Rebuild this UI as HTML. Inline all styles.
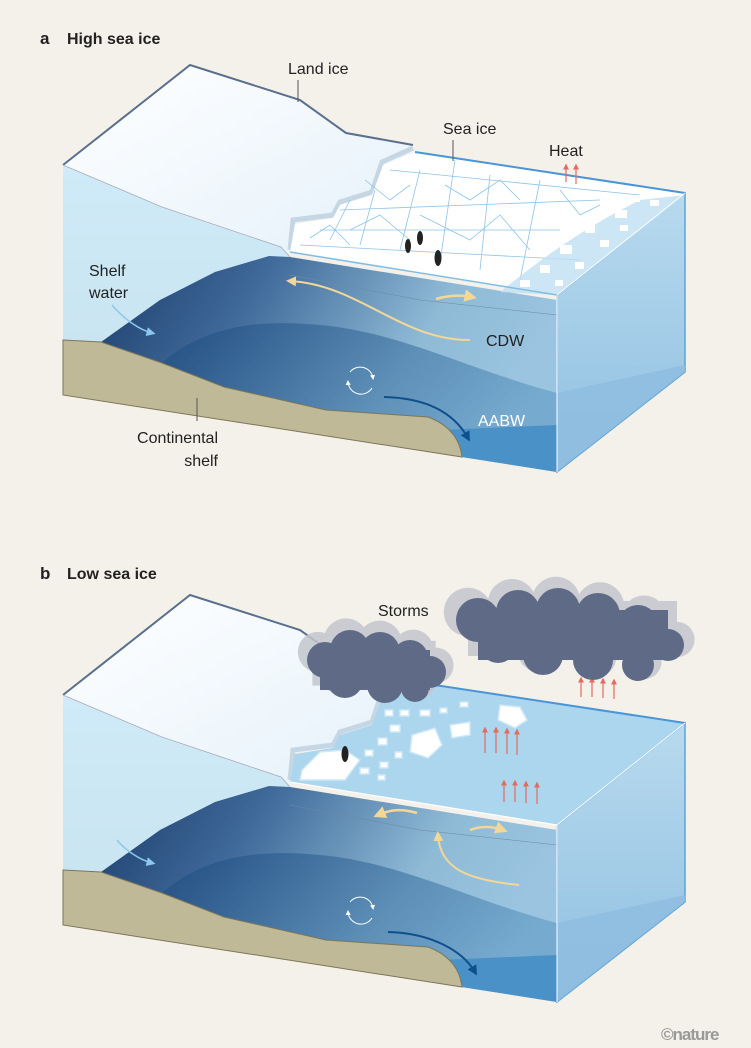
<!DOCTYPE html>
<html><head><meta charset="utf-8"><style>
body{margin:0;background:#f4f1ea;}
svg{display:block;font-family:"Liberation Sans",sans-serif;}
</style></head><body>
<svg width="751" height="1048" viewBox="0 0 751 1048" xmlns="http://www.w3.org/2000/svg">
<defs>
<linearGradient id="face" x1="0" y1="0" x2="0" y2="1"><stop offset="0" stop-color="#cfeaf8"/><stop offset="0.7" stop-color="#c9e4f0"/><stop offset="1" stop-color="#b9c9b8"/></linearGradient>
<linearGradient id="deep" x1="0" y1="0" x2="1" y2="0.3"><stop offset="0" stop-color="#1c3c6a"/><stop offset="0.35" stop-color="#3f6a9a"/><stop offset="0.75" stop-color="#8fbad6"/><stop offset="1" stop-color="#9ac4e0"/></linearGradient>
<linearGradient id="low" x1="0" y1="0" x2="1" y2="0.4"><stop offset="0" stop-color="#1e4a7e"/><stop offset="1" stop-color="#6aa2c9"/></linearGradient>
<linearGradient id="land" x1="0" y1="0" x2="1" y2="1"><stop offset="0" stop-color="#ffffff"/><stop offset="1" stop-color="#e4f1fa"/></linearGradient>
<linearGradient id="side" x1="0" y1="0" x2="0" y2="1"><stop offset="0" stop-color="#b8daee"/><stop offset="1" stop-color="#8fbfe1"/></linearGradient>
<marker id="ay" viewBox="0 0 10 10" refX="6" refY="5" markerWidth="5" markerHeight="5" orient="auto-start-reverse"><path d="M0 0L10 5L0 10z" fill="#f3d797"/></marker>
<marker id="ab" viewBox="0 0 10 10" refX="6" refY="5" markerWidth="5" markerHeight="5" orient="auto"><path d="M0 0L10 5L0 10z" fill="#0f4f8e"/></marker>
<marker id="al" viewBox="0 0 10 10" refX="6" refY="5" markerWidth="6" markerHeight="6" orient="auto"><path d="M0 0L10 5L0 10z" fill="#8cc8ee"/></marker>
<marker id="aw" viewBox="0 0 10 10" refX="6" refY="5" markerWidth="5" markerHeight="5" orient="auto"><path d="M0 0L10 5L0 10z" fill="#fff"/></marker>
<marker id="ar" viewBox="0 0 10 10" refX="6" refY="5" markerWidth="5" markerHeight="5" orient="auto"><path d="M0 0L10 5L0 10z" fill="#e36b5e"/></marker>
<g id="base">
 <path d="M63 165 L162 207 L281 247 L290 257 L557 300 L557 472 L63 395Z" fill="url(#face)"/>
 <path d="M557 295 L685 193 L685 372 L557 472Z" fill="url(#side)" stroke="#5fa3d6" stroke-width="1.5"/>
 <path d="M557 393 L685 365 L685 372 L557 472Z" fill="#8ebde0" opacity="0.8"/>
 <path d="M101 342 L160 300 L215 272 L269 256 L290 257 L557 300 L557 472 L462 457 L428 417 L326 410 L224 387 L162 363Z" fill="url(#deep)"/>
 <path d="M162 363 C200 330 250 318 320 325 C400 332 470 370 557 393 L557 472 L462 457 L428 417 L326 410 L224 387Z" fill="url(#low)" opacity="0.75"/>
 <path d="M440 430 L557 425 L557 472 L462 457Z" fill="#4a91c7"/>
 <path d="M290 275 L420 300 L557 315" fill="none" stroke="#6b8aa5" stroke-width="0.6"/>
 <path d="M63 340 L101 342 L162 363 L224 387 L326 410 L428 417 C450 425 460 440 462 457 L63 395Z" fill="#bfb997" stroke="#7d7658" stroke-width="1"/>
 <path d="M63 165 L190 65 L300 100 L346 133 L413 145 L413 152 L380 168 L370 195 L340 205 L333 218 L295 222 L290 257 L281 247 L162 207Z" fill="url(#land)"/>
 <path d="M63 165 L190 65 L300 100 L346 133 L413 145" fill="none" stroke="#5a6f8c" stroke-width="2"/>
 <path d="M63 165 L162 207 L281 247 L290 257" fill="none" stroke="#aab" stroke-width="0.8"/>
 <path d="M413 148 L382 162 L372 192 L340 202 L333 215 L293 220 L290 250" fill="none" stroke="#c5d7e4" stroke-width="5"/>
</g>
<g id="cl1">
<circle cx="0" cy="0" r="18"/><circle cx="25" cy="-10" r="20"/><circle cx="55" cy="-8" r="20"/><circle cx="85" cy="-2" r="18"/><circle cx="105" cy="12" r="16"/><circle cx="20" cy="20" r="18"/><circle cx="60" cy="25" r="18"/><circle cx="90" cy="28" r="14"/><rect x="-5" y="-10" width="110" height="40"/>
</g>
<g id="cl2">
<circle cx="0" cy="0" r="22"/><circle cx="40" cy="-8" r="22"/><circle cx="80" cy="-10" r="22"/><circle cx="120" cy="-5" r="22"/><circle cx="160" cy="5" r="20"/><circle cx="190" cy="25" r="16"/><circle cx="20" cy="25" r="18"/><circle cx="65" cy="35" r="20"/><circle cx="115" cy="40" r="20"/><circle cx="160" cy="45" r="16"/><rect x="0" y="-10" width="190" height="50"/>
</g>
</defs>

<text x="40" y="44" font-size="17" font-weight="bold" fill="#222">a</text>
<text x="67" y="44" font-size="16" font-weight="bold" fill="#222">High sea ice</text>
<use href="#base"/>
<path d="M295 224 L333 218 L340 205 L372 195 L383 165 L415 152 L685 193 L557 295 L290 252Z" fill="#ffffff"/>
<g fill="none" stroke="#8dc3e8" stroke-width="0.8">
<path d="M330 240 L350 200 M360 245 L375 190 M400 250 L420 170 M440 262 L455 160 M480 270 L490 175 M520 280 L540 180 M320 230 L560 230 M340 210 L600 200 M300 245 L580 260 M390 170 L640 195 M420 215 L470 240 L500 215 L530 250 M350 230 L380 215 L410 240 M310 238 L330 225 L350 245 M445 185 L470 200 L500 180 L520 200 M560 190 L580 215 L600 205 M365 180 L390 200 L410 185"/>
</g>
<path d="M500 292 C540 260 580 230 640 200 L685 195 L557 295Z" fill="#bfe0f3" opacity="0.8"/>
<g fill="#fff"><rect x="600" y="200" width="10" height="7"/><rect x="615" y="210" width="12" height="8"/><rect x="585" y="225" width="10" height="8"/><rect x="630" y="195" width="10" height="7"/><rect x="560" y="245" width="12" height="9"/><rect x="540" y="265" width="10" height="8"/><rect x="575" y="262" width="9" height="7"/><rect x="520" y="280" width="10" height="7"/><rect x="650" y="200" width="9" height="6"/><rect x="600" y="240" width="9" height="7"/><rect x="620" y="225" width="8" height="6"/><rect x="555" y="280" width="8" height="6"/></g>
<path d="M290 252 L557 295" stroke="#7fbde6" stroke-width="1.5"/>
<path d="M415 152 L685 193" stroke="#4a95d6" stroke-width="2"/>
<path d="M557 295 L685 193" stroke="#fff" stroke-width="1"/>
<path d="M557 295 L557 472" stroke="#fff" stroke-width="1"/>
<g fill="#222"><ellipse cx="408" cy="246" rx="3" ry="7"/><ellipse cx="420" cy="238" rx="3" ry="7"/><ellipse cx="438" cy="258" rx="3.5" ry="8"/></g>
<path d="M290 281 C360 285 400 340 470 340" fill="none" stroke="#f3d797" stroke-width="2" marker-start="url(#ay)"/>
<path d="M436 299 C450 295 462 295 472 297" fill="none" stroke="#f3d797" stroke-width="2.5" marker-end="url(#ay)"/>
<path d="M112 305 C125 320 140 330 152 333" fill="none" stroke="#8cc8ee" stroke-width="1.5" marker-end="url(#al)"/>
<path d="M350 372 A13 13 0 0 1 373 378" fill="none" stroke="#fff" stroke-width="1" marker-end="url(#aw)"/>
<path d="M372 388 A13 13 0 0 1 348 382" fill="none" stroke="#fff" stroke-width="1" marker-end="url(#aw)"/>
<path d="M384 397 C430 398 455 415 468 438" fill="none" stroke="#0f4f8e" stroke-width="2" marker-end="url(#ab)"/>
<g stroke="#e36b5e" stroke-width="1.2"><path d="M566 182 L566 166" marker-end="url(#ar)"/><path d="M576 184 L576 166" marker-end="url(#ar)"/></g>
<g font-size="16" fill="#222">
<text x="288" y="74">Land ice</text><path d="M298 80 V102" stroke="#555"/>
<text x="443" y="134">Sea ice</text><path d="M453 140 V161" stroke="#555"/>
<text x="549" y="156">Heat</text>
<text x="89" y="276">Shelf</text><text x="89" y="298">water</text>
<text x="486" y="346">CDW</text>
<text x="478" y="426" fill="#fff">AABW</text>
<text x="218" y="443" text-anchor="end">Continental</text><text x="218" y="466" text-anchor="end">shelf</text>
<path d="M197 398 V421" stroke="#555"/>
</g>

<text x="40" y="579" font-size="17" font-weight="bold" fill="#222">b</text>
<text x="67" y="579" font-size="16" font-weight="bold" fill="#222">Low sea ice</text>
<g transform="translate(0,530)">
<use href="#base"/>
<path d="M295 224 L333 218 L340 205 L372 195 L383 165 L415 152 L685 193 L557 295 L290 252Z" fill="#acd5ee"/>
<g fill="#fff" stroke="#cde8f7" stroke-width="1.5">
<path d="M302 240 L320 222 L345 220 L360 230 L345 250 L300 250Z"/>
<path d="M412 205 L435 198 L442 215 L428 228 L410 222Z"/>
<path d="M450 195 L470 192 L470 205 L452 208Z"/>
<path d="M500 175 L520 177 L527 190 L515 198 L498 190Z"/>
<rect x="365" y="220" width="8" height="6"/><rect x="378" y="208" width="9" height="7"/><rect x="390" y="195" width="10" height="7"/><rect x="380" y="232" width="8" height="6"/><rect x="395" y="222" width="7" height="6"/><rect x="400" y="180" width="9" height="6"/><rect x="420" y="180" width="10" height="6"/><rect x="385" y="180" width="8" height="6"/><rect x="360" y="238" width="9" height="6"/><rect x="440" y="178" width="7" height="5"/><rect x="460" y="172" width="8" height="5"/><rect x="378" y="245" width="7" height="5"/></g>
<ellipse cx="345" cy="224" rx="3.5" ry="8" fill="#222"/>
<path d="M290 252 L557 295" stroke="#fff" stroke-width="1.2"/>
<path d="M415 152 L685 193" stroke="#4a95d6" stroke-width="2"/>
<path d="M557 295 L685 193 M557 295 L557 472" stroke="#fff" stroke-width="1"/>
<path d="M417 283 C400 278 390 280 378 285" fill="none" stroke="#f3d797" stroke-width="2.5" marker-end="url(#ay)"/>
<path d="M470 300 C480 296 492 296 503 300" fill="none" stroke="#f3d797" stroke-width="2.5" marker-end="url(#ay)"/>
<path d="M519 355 C470 350 440 340 438 305" fill="none" stroke="#f3d797" stroke-width="2" marker-end="url(#ay)"/>
<path d="M117 310 C125 320 140 330 152 333" fill="none" stroke="#8cc8ee" stroke-width="1.5" marker-end="url(#al)"/>
<path d="M350 372 A13 13 0 0 1 373 378" fill="none" stroke="#fff" stroke-width="1" marker-end="url(#aw)"/>
<path d="M372 388 A13 13 0 0 1 348 382" fill="none" stroke="#fff" stroke-width="1" marker-end="url(#aw)"/>
<path d="M388 402 C430 403 462 420 475 442" fill="none" stroke="#0f4f8e" stroke-width="2" marker-end="url(#ab)"/>
<g stroke="#e36b5e" stroke-width="1.2">
<path d="M485 223V199" marker-end="url(#ar)"/><path d="M496 223V199" marker-end="url(#ar)"/><path d="M507 224V200" marker-end="url(#ar)"/><path d="M517 225V201" marker-end="url(#ar)"/>
<path d="M581 167V149" marker-end="url(#ar)"/><path d="M592 167V149" marker-end="url(#ar)"/><path d="M603 168V150" marker-end="url(#ar)"/><path d="M614 169V151" marker-end="url(#ar)"/>
<path d="M504 272V252" marker-end="url(#ar)"/><path d="M515 272V252" marker-end="url(#ar)"/><path d="M526 273V253" marker-end="url(#ar)"/><path d="M537 274V254" marker-end="url(#ar)"/>
</g>
</g>
<!-- clouds -->
<g fill="#c3c6ce" opacity="0.85">
<use href="#cl1" transform="translate(318,652) scale(1.12)"/>
<use href="#cl2" transform="translate(468,612) scale(1.1)"/>
</g>
<g fill="#5f6b86">
<use href="#cl1" transform="translate(325,660)"/>
<use href="#cl2" transform="translate(478,620)"/>
</g>
<text x="378" y="616" font-size="16" fill="#222">Storms</text>
<text x="661" y="1040" font-size="17" fill="#999" font-weight="bold" letter-spacing="-1">©nature</text>
</svg>
</body></html>
